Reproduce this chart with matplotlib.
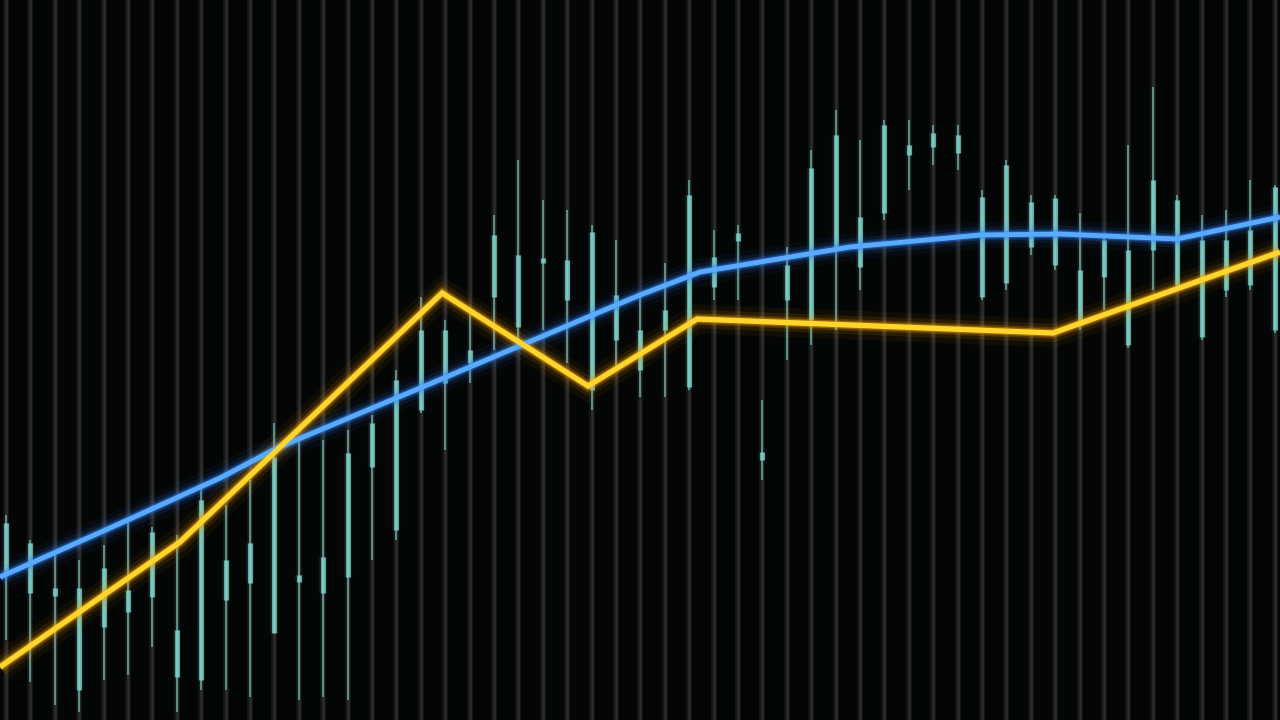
import matplotlib
matplotlib.use("Agg")
import matplotlib.pyplot as plt
import numpy as np

# candles: one per vertical grid line (index 0..52), values on a 0..720 price scale
wick_high = [205, 180, 165, 160, 175, 200, 193, 185, 232, 215, 240, 297, 280, 280,
             290, 305, 350, 423, 400, 410, 505, 560, 520, 510, 495, 480, 425, 457,
             540, 490, 495, 320, 473, 570, 610, 580, 600, 600, 595, 595, 530, 560,
             525, 525, 507, 485, 575, 633, 525, 505, 510, 540, 535]
wick_low = [80, 38, 15, 8, 40, 45, 73, 8, 30, 30, 23, 87, 20, 23,
            20, 160, 180, 307, 270, 337, 370, 375, 390, 357, 310, 350, 323, 323,
            330, 420, 420, 240, 360, 375, 390, 430, 500, 530, 555, 550, 420, 430,
            465, 450, 390, 410, 372, 430, 430, 380, 423, 430, 387]
body_top = [197, 177, 132, 132, 152, 130, 188, 90, 220, 160, 177, 263, 145, 163,
            267, 297, 340, 390, 390, 370, 485, 465, 462, 460, 488, 425, 390, 410,
            525, 463, 487, 268, 455, 552, 585, 503, 595, 575, 587, 585, 523, 555,
            518, 522, 450, 480, 470, 540, 520, 480, 480, 490, 533]
body_bot = [145, 127, 124, 30, 93, 108, 123, 43, 40, 120, 137, 87, 138, 127,
            143, 253, 190, 310, 337, 357, 423, 393, 457, 420, 330, 380, 350, 390,
            333, 433, 479, 260, 420, 400, 473, 453, 507, 565, 573, 567, 423, 437,
            473, 455, 395, 443, 375, 470, 435, 383, 430, 435, 390]

# trend lines (x in candle index units)
blue_x = [-0.25, 4.26, 8.77, 11.11, 16.97, 25.98, 28.44, 34.59, 39.92, 43.2, 47.99, 52.21]
blue_y = [143, 192, 242, 272, 332, 425, 448, 473, 485, 486, 481, 503]
yellow_x = [-0.25, 7.13, 17.87, 23.85, 28.32, 42.91, 52.21]
yellow_y = [53, 178, 427, 334, 401, 387, 468]

BG = "#040505"
TEAL = "#7fd3ca"


def glow_line(ax, x, y, core, halo, lw):
    # stacked wide translucent strokes for the neon look
    for w, a in [(lw * 5.5, 0.05), (lw * 3.5, 0.10), (lw * 2.2, 0.2), (lw * 1.5, 0.4)]:
        ax.plot(x, y, color=halo, lw=w, alpha=a, solid_joinstyle="miter",
                solid_capstyle="butt", zorder=4)
    ax.plot(x, y, color=core, lw=lw, solid_joinstyle="miter",
            solid_capstyle="butt", zorder=5)


fig = plt.figure(figsize=(12.8, 7.2), dpi=100, facecolor=BG)
ax = fig.add_axes([0, 0, 1, 1])
ax.set_facecolor(BG)

n = len(wick_high)
idx = np.arange(n)

# soft vertical grid
for i in idx:
    ax.axvline(i, color="#2a2a2a", lw=4.0, alpha=0.45, zorder=0)
    ax.axvline(i, color="#333333", lw=1.8, alpha=0.8, zorder=0)

# candles
ax.vlines(idx, wick_low, wick_high, color=TEAL, lw=1.5, alpha=0.6, zorder=2)
ax.vlines(idx, body_bot, body_top, color=TEAL, lw=6, alpha=0.1, zorder=2)
ax.vlines(idx, body_bot, body_top, color=TEAL, lw=3.4, alpha=0.85, zorder=3)

glow_line(ax, blue_x, blue_y, "#5aabff", "#2f86ff", 3.5)
glow_line(ax, yellow_x, yellow_y, "#ffd62e", "#ffa800", 3.8)

ax.set_xlim(-0.25, 52.21)
ax.set_ylim(0, 720)
ax.axis("off")

plt.savefig("out.png", dpi=100, facecolor=BG)
plt.close()
